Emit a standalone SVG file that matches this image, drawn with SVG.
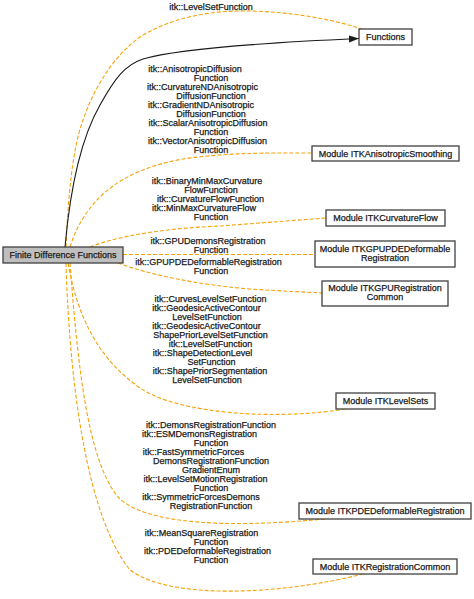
<svg xmlns="http://www.w3.org/2000/svg" width="474" height="599" viewBox="0 0 474 599">
<defs>
<style>
text{font-family:"Liberation Sans",Arial,sans-serif;font-size:9px;fill:#1a1a1a;stroke:#1a1a1a;stroke-width:0.25;text-anchor:middle}
.box{fill:#ffffff;stroke:#404040;stroke-width:1.3}
.cur{fill:#bfbfbf;stroke:#404040;stroke-width:1.3}
.dep{fill:none;stroke:#f5a30a;stroke-width:1.1;stroke-dasharray:4,2}
.sol{fill:none;stroke:#1a1a1a;stroke-width:1.1}
</style>
<marker id="arr" markerWidth="10" markerHeight="8" refX="10" refY="4" orient="auto" markerUnits="userSpaceOnUse">
<polygon points="0,0.5 10,4 0,7.5" fill="#1a1a1a"/>
</marker>
</defs>
<rect width="474" height="599" fill="#ffffff"/>
<g id="edges">
<path class="dep" d="M66,247 C68,200 72,150 83,120 C95,85 115,55 140,37 C170,18 210,10 250,11 C295,12 335,20 362,29"/>
<path class="sol" d="M65,247 C70,190 80,140 100,105 C115,78 125,65 143,59 C180,48 280,42 359,38.5" marker-end="url(#arr)"/>
<path class="dep" d="M70,247 C85,200 120,170 183,159 C230,152 280,153 312,153"/>
<path class="dep" d="M90,247 C120,235 170,228 220,226 C260,223 300,220 326,218"/>
<path class="dep" d="M123,254.5 L315,254.5"/>
<path class="dep" d="M118,263 C150,275 200,285 250,289 C280,291 305,292 322,293"/>
<path class="dep" d="M68,263 C78,320 100,360 140,388 C180,415 280,420 345,409"/>
<path class="dep" d="M70,263 C78,370 88,460 118,497 C145,525 230,528 325,519"/>
<path class="dep" d="M66,263 C70,400 90,520 130,570 C170,600 280,595 363,574"/>
</g>
<g id="edge-labels">
<text x="211" y="10">itk::LevelSetFunction</text>
<text x="195" y="71.5">itk::AnisotropicDiffusion</text>
<text x="211" y="80.5">Function</text>
<text x="202.5" y="89.5">itk::CurvatureNDAnisotropic</text>
<text x="211" y="98.5">DiffusionFunction</text>
<text x="201" y="107.5">itk::GradientNDAnisotropic</text>
<text x="211" y="116.5">DiffusionFunction</text>
<text x="208" y="125.5">itk::ScalarAnisotropicDiffusion</text>
<text x="211" y="134.5">Function</text>
<text x="207.5" y="143.5">itk::VectorAnisotropicDiffusion</text>
<text x="211" y="152.5">Function</text>
<text x="207" y="183.5">itk::BinaryMinMaxCurvature</text>
<text x="211" y="192.5">FlowFunction</text>
<text x="210.5" y="201.5">itk::CurvatureFlowFunction</text>
<text x="204" y="210.5">itk::MinMaxCurvatureFlow</text>
<text x="211" y="219.5">Function</text>
<text x="208" y="243.5">itk::GPUDemonsRegistration</text>
<text x="211" y="252.5">Function</text>
<text x="208.5" y="265">itk::GPUPDEDeformableRegistration</text>
<text x="211" y="274">Function</text>
<text x="210.5" y="302">itk::CurvesLevelSetFunction</text>
<text x="206.5" y="311">itk::GeodesicActiveContour</text>
<text x="207" y="320">LevelSetFunction</text>
<text x="206.5" y="329">itk::GeodesicActiveContour</text>
<text x="210.5" y="338">ShapePriorLevelSetFunction</text>
<text x="210.5" y="347">itk::LevelSetFunction</text>
<text x="202.5" y="356">itk::ShapeDetectionLevel</text>
<text x="211.5" y="365">SetFunction</text>
<text x="210" y="374">itk::ShapePriorSegmentation</text>
<text x="207" y="383">LevelSetFunction</text>
<text x="211" y="427.5">itk::DemonsRegistrationFunction</text>
<text x="199.5" y="436.5">itk::ESMDemonsRegistration</text>
<text x="211" y="445.5">Function</text>
<text x="193.5" y="454.5">itk::FastSymmetricForces</text>
<text x="211" y="463.5">DemonsRegistrationFunction</text>
<text x="211" y="472.5">GradientEnum</text>
<text x="205.5" y="481.5">itk::LevelSetMotionRegistration</text>
<text x="211" y="490.5">Function</text>
<text x="201" y="499.5">itk::SymmetricForcesDemons</text>
<text x="211" y="508.5">RegistrationFunction</text>
<text x="201.5" y="536">itk::MeanSquareRegistration</text>
<text x="211" y="545">Function</text>
<text x="207.5" y="554">itk::PDEDeformableRegistration</text>
<text x="211" y="563">Function</text>
</g>
<g id="node-fdf"><rect class="cur" x="3" y="247" width="120" height="16"/><text x="63" y="258">Finite Difference Functions</text></g>
<g id="node-functions"><rect class="box" x="359" y="29" width="53" height="16"/><text x="385.5" y="40">Functions</text></g>
<g id="node-aniso"><rect class="box" x="312" y="146" width="147" height="15"/><text x="385.5" y="156.5">Module ITKAnisotropicSmoothing</text></g>
<g id="node-curv"><rect class="box" x="326" y="210" width="119" height="16"/><text x="385.5" y="221">Module ITKCurvatureFlow</text></g>
<g id="node-gpupde"><rect class="box" x="315" y="241" width="140" height="26"/><text x="385" y="252">Module ITKGPUPDEDeformable</text><text x="385" y="261">Registration</text></g>
<g id="node-gpureg"><rect class="box" x="322" y="281" width="126" height="25"/><text x="385" y="291">Module ITKGPURegistration</text><text x="385" y="300">Common</text></g>
<g id="node-levelsets"><rect class="box" x="336" y="393" width="99" height="16"/><text x="385.5" y="404">Module ITKLevelSets</text></g>
<g id="node-pde"><rect class="box" x="299" y="503" width="172" height="16"/><text x="385" y="514">Module ITKPDEDeformableRegistration</text></g>
<g id="node-regcommon"><rect class="box" x="313" y="559" width="144" height="15"/><text x="385" y="569.5">Module ITKRegistrationCommon</text></g>
</svg>
